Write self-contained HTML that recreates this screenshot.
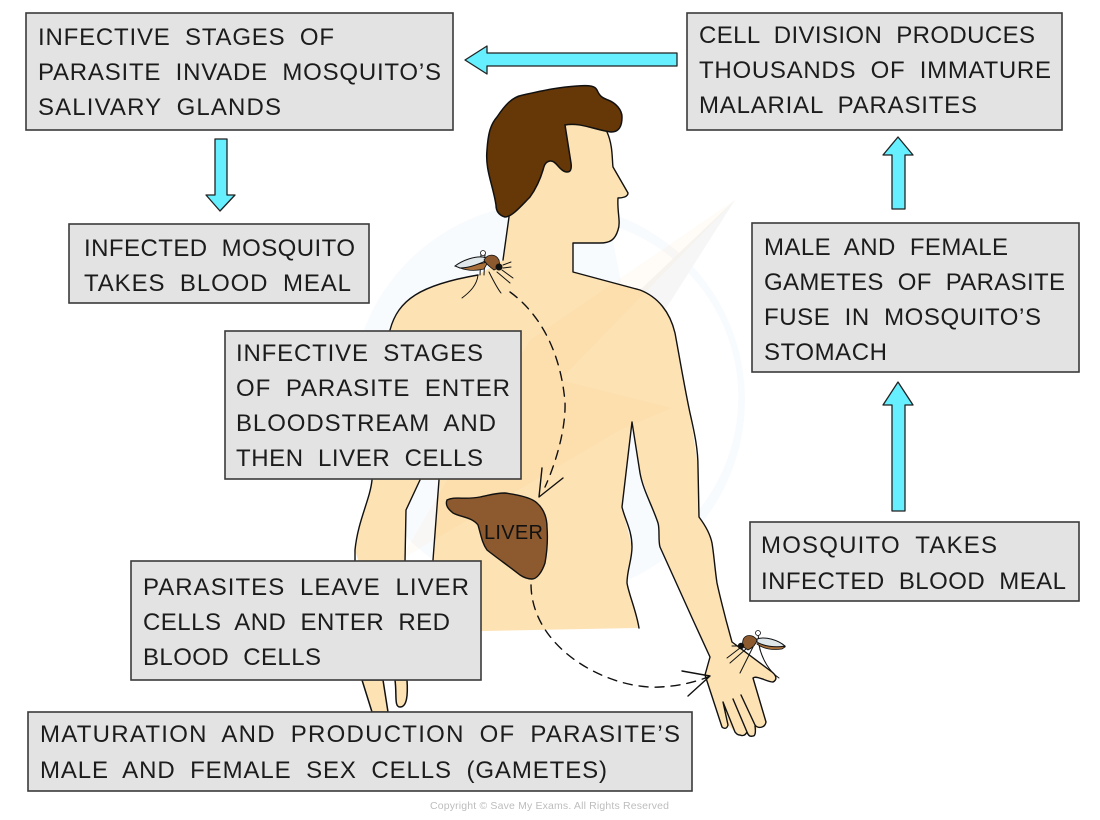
<!DOCTYPE html>
<html><head><meta charset="utf-8"><style>
html,body{margin:0;padding:0;background:#fff;width:1100px;height:820px;overflow:hidden}
svg{display:block}
.t{font-family:"Liberation Sans",sans-serif;font-size:24px;fill:#1c1c1c;word-spacing:7px}
.b{fill:#e3e3e3;stroke:#3a3a3a;stroke-width:1.6}
.a{fill:#66efff;stroke:#222;stroke-width:1.3;stroke-linejoin:round}
.l{fill:none;stroke:#111;stroke-width:1.4;stroke-linecap:round;stroke-linejoin:round}
.m{fill:none;stroke:#111;stroke-width:1;stroke-linecap:round;stroke-linejoin:round}
.s{fill:#fde2b4;stroke:#111;stroke-width:1.5;stroke-linejoin:round}
</style></head><body>
<svg width="1100" height="820" viewBox="0 0 1100 820" xmlns="http://www.w3.org/2000/svg">
<!-- watermark -->
<circle cx="548" cy="400" r="197" fill="#f8fbfe"/>
<path d="M610 225 A 180 180 0 0 1 690 520 L 640 380 Z" fill="#fff"/>
<path d="M640 290 L735 200 L665 310 Z" fill="#f6f6f6"/>
<!-- body fill -->
<path fill="#fde2b4" d="M390 330 C398 300 420 285 478 275 L503 260 L509 217 L520 120 L607 110 L607 132 C613 145 612 160 613 167 L628 193 C628 197 622 198 618 198 C617 212 621 222 618 230 C615 240 610 243 600 243 L573 243 L573 272 L640 290 C658 297 670 312 675 333 L690 413 L698 467 L699 517 C705 525 710 533 712 543 L717 583 L726 620 L732 642 L772 672 C777 676 777 680 773 682 C767 682 757 675 753 678 C758 695 764 710 766 722 C765 728 757 729 755 727 L757 728 C755 733 755 736 753 736 C749 737 748 734 747 733 C745 736 743 736 740 735 C737 735 736 733 735 732 L728 725 C727 729 724 729 722 727 L705 675 L710 657 L693 620 L660 547 L658 523 L640 473 L632 422 L622 507 L632 547 L627 583 L638 620 L639 628 L485 631 L433 630 L433 560 L439 480 L420 480 L406 510 L405 562 L405 630 L380 630 L355 550 C358 520 370 500 372 480 Z"/>
<path d="M362 680 L372 712 L388 712 L383 680 Z" class="s"/>
<path d="M395 680 C397 695 394 707 400 707 C407 707 408 695 407 680 Z" class="s"/>
<!-- star tint -->
<path d="M735 200 L530 340 L400 560 L620 430 L672 408 L560 380 Z" fill="#f9a825" opacity=".045"/>
<!-- body outlines -->
<path class="l" d="M509 217 L503 260"/>
<path class="l" d="M478 275 C420 285 398 300 390 330"/>
<path class="l" d="M607 132 C613 145 612 160 613 167 L628 193 C628 197 622 198 618 198 C617 212 621 222 618 230 C615 240 610 243 600 243 L573 243 L573 272 L640 290 C658 297 670 312 675 333 C680 360 685 390 690 413 C695 435 698 450 698 467 L699 517 C705 525 710 533 712 543 C714 555 715 570 717 583 C720 597 723 608 726 620 L732 642 L772 672 C777 676 777 680 773 682 C767 682 757 675 753 678 L766 722 C765 728 758 729 755 725 L741 695 M755 726 C756 733 755 736 753 736 C750 737 748 735 747 732 L733 699 M747 732 C745 736 742 736 740 735 C737 735 736 733 735 732 L723 702 L728 725 C727 729 724 729 722 727 L705 675 L710 657 L693 620 L660 547 C658 540 660 530 658 523 C652 505 643 490 640 473 L632 422 L622 507 C625 520 632 530 632 547 C632 560 627 570 627 583 C629 595 636 610 639 628"/>
<path class="l" d="M372 480 C370 500 358 520 355 550 L355 565 M420 480 L406 510 L405 562 M439 480 L433 560"/>
<!-- hair -->
<path d="M505 217 C498 215 496 210 496 205 C493 185 485 170 487 150 C488 135 490 125 497 117 C505 105 512 97 523 95 C545 90 560 87 577 86 C590 85 595 86 597 90 C600 97 603 98 608 100 C616 103 622 110 622 117 C622 128 618 132 611 132 C595 130 580 122 565 125 L571 163 C572 170 570 172 567 172 C560 172 556 160 550 161 C545 162 544 166 543 170 C540 180 535 190 530 197 C522 205 512 217 505 217 Z" fill="#663707" stroke="#111" stroke-width="1.5"/>
<!-- liver -->
<path d="M447 500 C455 496 465 500 480 497 C490 495 495 493 505 493 C520 495 532 498 537 503 C545 510 547 520 547 527 C548 540 547 552 545 563 C542 572 537 579 532 579 C527 579 523 577 520 575 C510 567 497 558 487 550 C482 543 481 535 478 525 C472 517 460 517 453 513 C448 509 445 505 447 500 Z" fill="#8c5a2e" stroke="#111" stroke-width="1.4"/>
<text x="484" y="539" font-family="Liberation Sans,sans-serif" font-size="20" fill="#111" textLength="59" lengthAdjust="spacing">LIVER</text>
<!-- dashed connectors -->
<path class="l" stroke-dasharray="9 7" d="M510 292 C535 310 560 345 565 402 C566 430 555 465 545 487"/>
<path class="l" d="M542 468 L539 497 L563 478"/>
<path class="l" stroke-dasharray="9 7" d="M531 585 C532 650 610 690 660 687 C680 686 695 682 708 677"/>
<path class="l" d="M682 671 L710 676 L688 696"/>
<!-- mosquito 1 -->
<g>
<path class="m" d="M478 275 C477 285 470 292 462 298 M489 272 C493 280 497 288 501 293 M497 272 L510 283 M502 270 L513 278 M503 268 L511 267 M503 265 L511 262 M481 254 L480 275 M485 254 L484 275"/>
<path d="M460 268 C468 271 476 271 484 269 L488 262 Z" fill="#a96f3a" stroke="#111" stroke-width=".8"/>
<path d="M455 266 C463 260 475 256 483 257 L489 259 C482 263 470 268 460 268 Z" fill="#dfe7ea" stroke="#111" stroke-width="1"/>
<path d="M484 260 C488 253 496 254 499 260 L500 267 L494 270 C490 267 486 264 484 260 Z" fill="#8c5a2e" stroke="#111" stroke-width=".8"/>
<circle cx="483" cy="253" r="2.5" fill="#fff" stroke="#111" stroke-width=".8"/>
<circle cx="499" cy="267" r="3.5" fill="#111"/>
</g>
<!-- mosquito 2 -->
<g>
<path class="m" d="M759 645 C762 660 770 672 779 678 M753 647 L740 673 M746 649 L730 663 M740 648 L727 658 M732 646 L738 646 M758 634 L760 650"/>
<path d="M757 644 C765 650 775 650 782 649 L785 647 L765 640 Z" fill="#a96f3a" stroke="#111" stroke-width=".8"/>
<path d="M757 639 C765 636 778 640 785 646 C775 648 763 646 757 642 Z" fill="#dfe7ea" stroke="#111" stroke-width="1"/>
<path d="M757 640 C753 634 745 634 743 640 L742 646 L748 650 C752 648 756 645 757 640 Z" fill="#8c5a2e" stroke="#111" stroke-width=".8"/>
<circle cx="758" cy="633" r="2.5" fill="#fff" stroke="#111" stroke-width=".8"/>
<circle cx="741" cy="646" r="3.2" fill="#111"/>
</g>
<!-- arrows -->
<path class="a" d="M465 60 L487 46 L487 53 L677 53 L677 66 L487 66 L487 74 Z"/>
<path class="a" d="M215 139 L227 139 L227 195 L235 195 L220 211 L206 195 L215 195 Z"/>
<path class="a" d="M898 137 L913 155 L905 155 L905 209 L892 209 L892 155 L883 155 Z"/>
<path class="a" d="M898 382 L913 405 L905 405 L905 511 L892 511 L892 405 L883 405 Z"/>
<!-- boxes -->
<rect class="b" x="26" y="13" width="427" height="117"/>
<text class="t" x="38" y="45" textLength="296" lengthAdjust="spacing">INFECTIVE STAGES OF</text>
<text class="t" x="38" y="80" textLength="403" lengthAdjust="spacing">PARASITE INVADE MOSQUITO’S</text>
<text class="t" x="38" y="115" textLength="243" lengthAdjust="spacing">SALIVARY GLANDS</text>
<rect class="b" x="687" y="13" width="375" height="117"/>
<text class="t" x="699" y="43" textLength="336" lengthAdjust="spacing">CELL DIVISION PRODUCES</text>
<text class="t" x="699" y="78" textLength="352" lengthAdjust="spacing">THOUSANDS OF IMMATURE</text>
<text class="t" x="699" y="113" textLength="278" lengthAdjust="spacing">MALARIAL PARASITES</text>
<rect class="b" x="69" y="224" width="300" height="79"/>
<text class="t" x="84" y="256" textLength="271" lengthAdjust="spacing">INFECTED MOSQUITO</text>
<text class="t" x="84" y="291" textLength="267" lengthAdjust="spacing">TAKES BLOOD MEAL</text>
<rect class="b" x="752" y="223" width="327" height="149"/>
<text class="t" x="764" y="255" textLength="244" lengthAdjust="spacing">MALE AND FEMALE</text>
<text class="t" x="764" y="290" textLength="301" lengthAdjust="spacing">GAMETES OF PARASITE</text>
<text class="t" x="764" y="325" textLength="277" lengthAdjust="spacing">FUSE IN MOSQUITO’S</text>
<text class="t" x="764" y="360" textLength="123" lengthAdjust="spacing">STOMACH</text>
<rect class="b" x="225" y="331" width="296" height="148"/>
<text class="t" x="236" y="361" textLength="247" lengthAdjust="spacing">INFECTIVE STAGES</text>
<text class="t" x="236" y="396" textLength="274" lengthAdjust="spacing">OF PARASITE ENTER</text>
<text class="t" x="236" y="431" textLength="260" lengthAdjust="spacing">BLOODSTREAM AND</text>
<text class="t" x="236" y="466" textLength="247" lengthAdjust="spacing">THEN LIVER CELLS</text>
<rect class="b" x="750" y="522" width="329" height="79"/>
<text class="t" x="761" y="553" textLength="236" lengthAdjust="spacing">MOSQUITO TAKES</text>
<text class="t" x="761" y="589" textLength="305" lengthAdjust="spacing">INFECTED BLOOD MEAL</text>
<rect class="b" x="131" y="561" width="350" height="119"/>
<text class="t" x="143" y="595" textLength="326" lengthAdjust="spacing">PARASITES LEAVE LIVER</text>
<text class="t" x="143" y="630" textLength="307" lengthAdjust="spacing">CELLS AND ENTER RED</text>
<text class="t" x="143" y="665" textLength="178" lengthAdjust="spacing">BLOOD CELLS</text>
<rect class="b" x="28" y="712" width="664" height="79"/>
<text class="t" x="40" y="742" textLength="640" lengthAdjust="spacing">MATURATION AND PRODUCTION OF PARASITE’S</text>
<text class="t" x="40" y="778" textLength="567" lengthAdjust="spacing">MALE AND FEMALE SEX CELLS (GAMETES)</text>
<text x="430" y="809" font-family="Liberation Sans,sans-serif" font-size="10.5" fill="#bdbdbd" textLength="239" lengthAdjust="spacing">Copyright © Save My Exams. All Rights Reserved</text>
</svg>
</body></html>
